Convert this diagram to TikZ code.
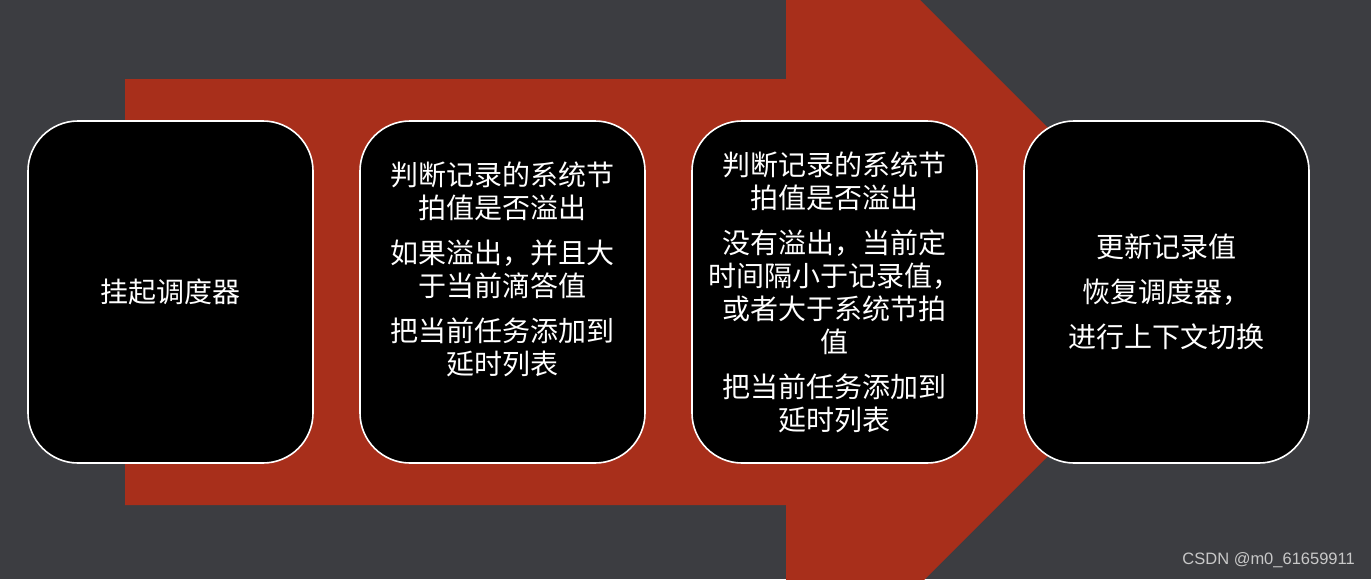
\documentclass[tikz,border=0pt]{standalone}
\usepackage{fontspec}
\newfontfamily\cjk{Noto Sans CJK SC}
\newfontfamily\wmfont{Liberation Sans}
\usepackage{tikz}
\usetikzlibrary{positioning}
\definecolor{bgrey}{RGB}{60,61,65}
\definecolor{arrowred}{RGB}{168,47,27}
\definecolor{wmgrey}{RGB}{200,200,200}

\begin{document}
\begin{tikzpicture}[x=1pt, y=-1pt, node distance=47pt,
    stepbox/.style = {draw=white, line width=1.6pt, fill=black, text=white, rounded corners=50pt,
        minimum width=285pt, minimum height=342pt, inner sep=0pt, outer sep=0pt, align=center,
        font=\cjk\fontsize{28}{33}\selectfont}]
    \fill[bgrey] (0,0) rectangle (1371,579);
    \useasboundingbox (0,0) rectangle (1371,579);
    \clip (0,0) rectangle (1371,579);

    \fill[arrowred] (125,79) -- (786,79) -- (786,-134) -- (1212,292) -- (786,718) -- (786,505) -- (125,505) -- cycle;

    \node[stepbox] (hang) at (170.5,292) {挂起调度器};
    \node[stepbox] (overflow) [right=of hang] {判断记录的系统节\\拍值是否溢出\\[12pt]如果溢出，并且大\\于当前滴答值\\[12pt]把当前任务添加到\\延时列表\\[15pt]\mbox{}};
    \node[stepbox] (nooverflow) [right=of overflow] {判断记录的系统节\\拍值是否溢出\\[12pt]没有溢出，当前定\\时间隔小于记录值，\\或者大于系统节拍\\值\\[12pt]把当前任务添加到\\延时列表};
    \node[stepbox] (resume) [right=of nooverflow] {更新记录值\\[12pt]恢复调度器，\\[12pt]进行上下文切换};

    \node[anchor=east, text=wmgrey, font=\wmfont\fontsize{16.5}{19}\selectfont, inner sep=0pt] (csdn) at (1355,560) {CSDN @m0\_61659911};
\end{tikzpicture}
\end{document}
